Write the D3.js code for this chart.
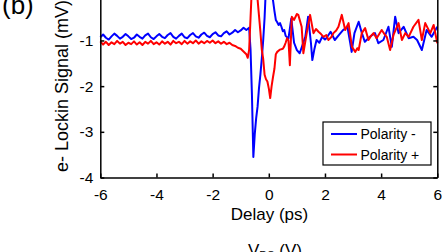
<!DOCTYPE html>
<html>
<head>
<meta charset="utf-8">
<script src="https://cdn.jsdelivr.net/npm/d3@7"></script>
<style>
  html, body { margin: 0; padding: 0; background: #fff; }
  svg { display: block; font-family: "Liberation Sans", Arial, Helvetica, sans-serif; }
  .axis path, .axis line { stroke: #000; stroke-width: 1.5; }
  .axis text { font-size: 15.5px; fill: #000; }
</style>
</head>
<body>
<svg id="chart" width="448" height="252"></svg>
<script>
// delay (ps) / lock-in signal (mV)
const blueDelay = [
  -6.0, -5.9, -5.8, -5.7, -5.6, -5.5, -5.4, -5.3, -5.2, -5.1,
  -5.0, -4.9, -4.8, -4.7, -4.6, -4.5, -4.4, -4.3, -4.2, -4.1,
  -4.0, -3.9, -3.8, -3.7, -3.6, -3.5, -3.4, -3.3, -3.2, -3.1,
  -3.0, -2.9, -2.8, -2.7, -2.6, -2.5, -2.4, -2.3, -2.2, -2.1,
  -2.0, -1.9, -1.8, -1.7, -1.6, -1.5, -1.4, -1.3, -1.2, -1.1,
  -1.0, -0.9, -0.8, -0.7, -0.65, -0.6, -0.55, -0.5, -0.45, -0.4,
  -0.35, -0.3, -0.25, -0.2, -0.15, -0.1, -0.05, 0.0, 0.05, 0.1,
  0.15, 0.2, 0.25, 0.3, 0.35, 0.4, 0.45, 0.5, 0.55, 0.6,
  0.7, 0.8, 0.9, 1.0, 1.1, 1.2, 1.3, 1.4, 1.5, 1.55,
  1.62, 1.7, 1.8, 1.9, 2.0, 2.05, 2.2, 2.35, 2.5, 2.65,
  2.8, 2.9, 2.95, 3.05, 3.2, 3.3, 3.42, 3.6, 3.78, 3.9,
  4.08, 4.26, 4.38, 4.5, 4.62, 4.8, 4.98, 5.15, 5.28, 5.45,
  5.62, 5.8, 6.0
];
const blueSignal = [
  -0.93, -0.87, -0.94, -0.98, -0.91, -0.85, -0.90, -0.96, -0.92, -0.86,
  -0.91, -0.97, -0.94, -0.87, -0.92, -0.96, -0.89, -0.85, -0.93, -0.97,
  -0.91, -0.86, -0.92, -0.95, -0.88, -0.84, -0.92, -0.96, -0.90, -0.85,
  -0.93, -0.95, -0.88, -0.84, -0.91, -0.94, -0.87, -0.83, -0.90, -0.93,
  -0.86, -0.82, -0.89, -0.91, -0.84, -0.80, -0.87, -0.83, -0.77, -0.82,
  -0.78, -0.72, -0.77, -0.72, -1.2, -2.2, -3.55, -3.05, -2.7, -2.45,
  -2.05, -1.75, -1.4, -1.0, -0.5, 0.2, 0.5, 0.6, 0.5, 0.25,
  -0.12, -0.35, -0.55, -0.6, -0.66, -0.62, -0.7, -0.8, -0.77, -0.9,
  -0.96, -0.52, -1.05, -1.21, -1.28, -1.1, -0.92, -0.48, -1.05, -1.43,
  -1.2, -0.99, -1.05, -0.92, -0.98, -0.95, -0.81, -0.99, -0.88, -0.77,
  -0.70, -1.06, -1.25, -0.84, -0.59, -0.81, -1.03, -0.92, -0.84, -1.06,
  -0.99, -0.70, -1.14, -0.48, -0.84, -0.70, -0.95, -0.92, -0.99, -1.21,
  -0.77, -0.92, -0.70
];
const redDelay = [
  -6.0, -5.9, -5.8, -5.7, -5.6, -5.5, -5.4, -5.3, -5.2, -5.1,
  -5.0, -4.9, -4.8, -4.7, -4.6, -4.5, -4.4, -4.3, -4.2, -4.1,
  -4.0, -3.9, -3.8, -3.7, -3.6, -3.5, -3.4, -3.3, -3.2, -3.1,
  -3.0, -2.9, -2.8, -2.7, -2.6, -2.5, -2.4, -2.3, -2.2, -2.1,
  -2.0, -1.9, -1.8, -1.7, -1.6, -1.5, -1.4, -1.3, -1.2, -1.1,
  -1.0, -0.9, -0.8, -0.75, -0.7, -0.65, -0.6, -0.55, -0.5, -0.45,
  -0.4, -0.35, -0.3, -0.25, -0.2, -0.15, -0.1, -0.05, 0.0, 0.05,
  0.1, 0.15, 0.2, 0.25, 0.3, 0.4, 0.5, 0.55, 0.6, 0.65,
  0.7, 0.75, 0.82, 0.9, 1.0, 1.05, 1.17, 1.23, 1.35, 1.47,
  1.59, 1.68, 1.77, 1.86, 1.95, 2.05, 2.12, 2.22, 2.3, 2.4,
  2.48, 2.6, 2.72, 2.84, 2.96, 3.08, 3.15, 3.2, 3.31, 3.43,
  3.55, 3.64, 3.73, 3.84, 4.02, 4.12, 4.2, 4.32, 4.44, 4.62,
  4.74, 4.86, 4.98, 5.15, 5.33, 5.45, 5.57, 5.75, 5.87, 6.0
];
const redSignal = [
  -1.02, -1.09, -1.03, -1.10, -1.04, -1.08, -1.01, -1.07, -1.03, -1.10,
  -1.05, -1.08, -1.02, -1.09, -1.04, -1.10, -1.03, -1.07, -1.01, -1.08,
  -1.04, -1.09, -1.02, -1.07, -1.03, -1.09, -1.01, -1.06, -1.03, -1.08,
  -1.01, -1.07, -1.02, -1.06, -1.00, -1.07, -1.02, -1.06, -1.01, -1.05,
  -1.00, -1.06, -1.02, -1.07, -1.03, -1.08, -1.05, -1.10, -1.12, -1.16,
  -1.18, -1.24, -1.30, -1.38, -1.2, -0.5, 0.2, 0.5, 0.5, 0.3,
  -0.1, -0.45, -0.8, -1.2, -1.4, -1.75, -1.85, -1.9, -2.05, -2.26,
  -2.0, -1.8, -1.62, -1.3, -1.25, -1.2, -1.18, -1.13, -1.05, -0.95,
  -1.0, -1.54, -0.48, -0.55, -0.42, -0.44, -0.70, -1.28, -0.84, -0.44,
  -0.84, -0.75, -0.81, -0.86, -0.92, -0.88, -0.99, -0.93, -0.84, -0.78,
  -0.70, -0.44, -0.77, -0.62, -1.14, -1.25, -1.17, -1.21, -0.84, -0.73,
  -0.99, -0.9, -0.84, -0.95, -0.77, -0.86, -0.92, -1.21, -0.88, -0.62,
  -0.99, -0.84, -0.92, -0.70, -0.55, -0.99, -0.62, -0.84, -0.66, -1.06
];
const xTicks = [-6, -4, -2, 0, 2, 4, 6];
const yTicks = [-4, -3, -2, -1, 0];
const seriesNames = ["Polarity -", "Polarity +"];
const seriesColors = ["#0000ff", "#ff0000"];

const svg = d3.select("#chart");

const x = d3.scaleLinear().domain([-6, 6]).range([100.3, 437.3]);
const y = d3.scaleLinear().domain([-4, 1]).range([177.5, -50.9]);

const line = d3.line()
  .x((d) => x(d[0]))
  .y((d) => y(d[1]));

const series = [
  d3.zip(blueDelay, blueSignal),
  d3.zip(redDelay, redSignal)
];

svg.append("g")
  .selectAll("path")
  .data(series)
  .join("path")
  .attr("fill", "none")
  .attr("stroke", (d, i) => seriesColors[i])
  .attr("stroke-width", 2)
  .attr("stroke-linejoin", "round")
  .attr("d", line);

// axes, ticks pointing inwards
svg.append("g")
  .attr("class", "axis")
  .attr("transform", `translate(0,${y(-4)})`)
  .call(d3.axisBottom(x).tickValues(xTicks).tickSizeInner(-4).tickSizeOuter(0).tickPadding(11))
  .call((g) => g.selectAll("text").text((d) => String(d)));

svg.append("g")
  .attr("class", "axis")
  .attr("transform", `translate(${x(-6)},0)`)
  .call(d3.axisLeft(y).tickValues(yTicks).tickSizeInner(-4).tickSizeOuter(0).tickPadding(7))
  .call((g) => g.selectAll("text").text((d) => String(d)));

svg.append("g")
  .attr("class", "axis")
  .attr("transform", `translate(${x(6)},0)`)
  .call(d3.axisRight(y).tickValues(yTicks).tickSizeInner(-4).tickSizeOuter(0).tickFormat(""));

// legend
const legend = svg.append("g").attr("transform", "translate(323,122)");
legend.append("rect")
  .attr("width", 108).attr("height", 43)
  .attr("fill", "#fff").attr("stroke", "#000").attr("stroke-width", 1.2);
seriesNames.forEach((name, i) => {
  const ly = 12 + i * 20.5;
  legend.append("line")
    .attr("x1", 8).attr("x2", 34).attr("y1", ly).attr("y2", ly)
    .attr("stroke", seriesColors[i]).attr("stroke-width", 2);
  legend.append("text")
    .attr("x", 37.5).attr("y", ly + 5)
    .attr("font-size", 14)
    .text(name);
});

// labels
svg.append("text")
  .attr("x", 269.5).attr("y", 220)
  .attr("text-anchor", "middle")
  .attr("font-size", 17)
  .text("Delay (ps)");

svg.append("text")
  .attr("transform", "translate(68,86) rotate(-90)")
  .attr("text-anchor", "middle")
  .attr("font-size", 18)
  .text("e- Lockin Signal (mV)");

svg.append("text")
  .attr("x", 2).attr("y", 14)
  .attr("font-size", 26)
  .text("(b)");

const vds = svg.append("text")
  .attr("x", 248).attr("y", 256)
  .attr("font-size", 17);
vds.append("tspan").text("V");
vds.append("tspan").attr("font-size", 11).attr("dy", 3).text("DS");
vds.append("tspan").attr("dy", -3).text(" (V)");
</script>
</body>
</html>
